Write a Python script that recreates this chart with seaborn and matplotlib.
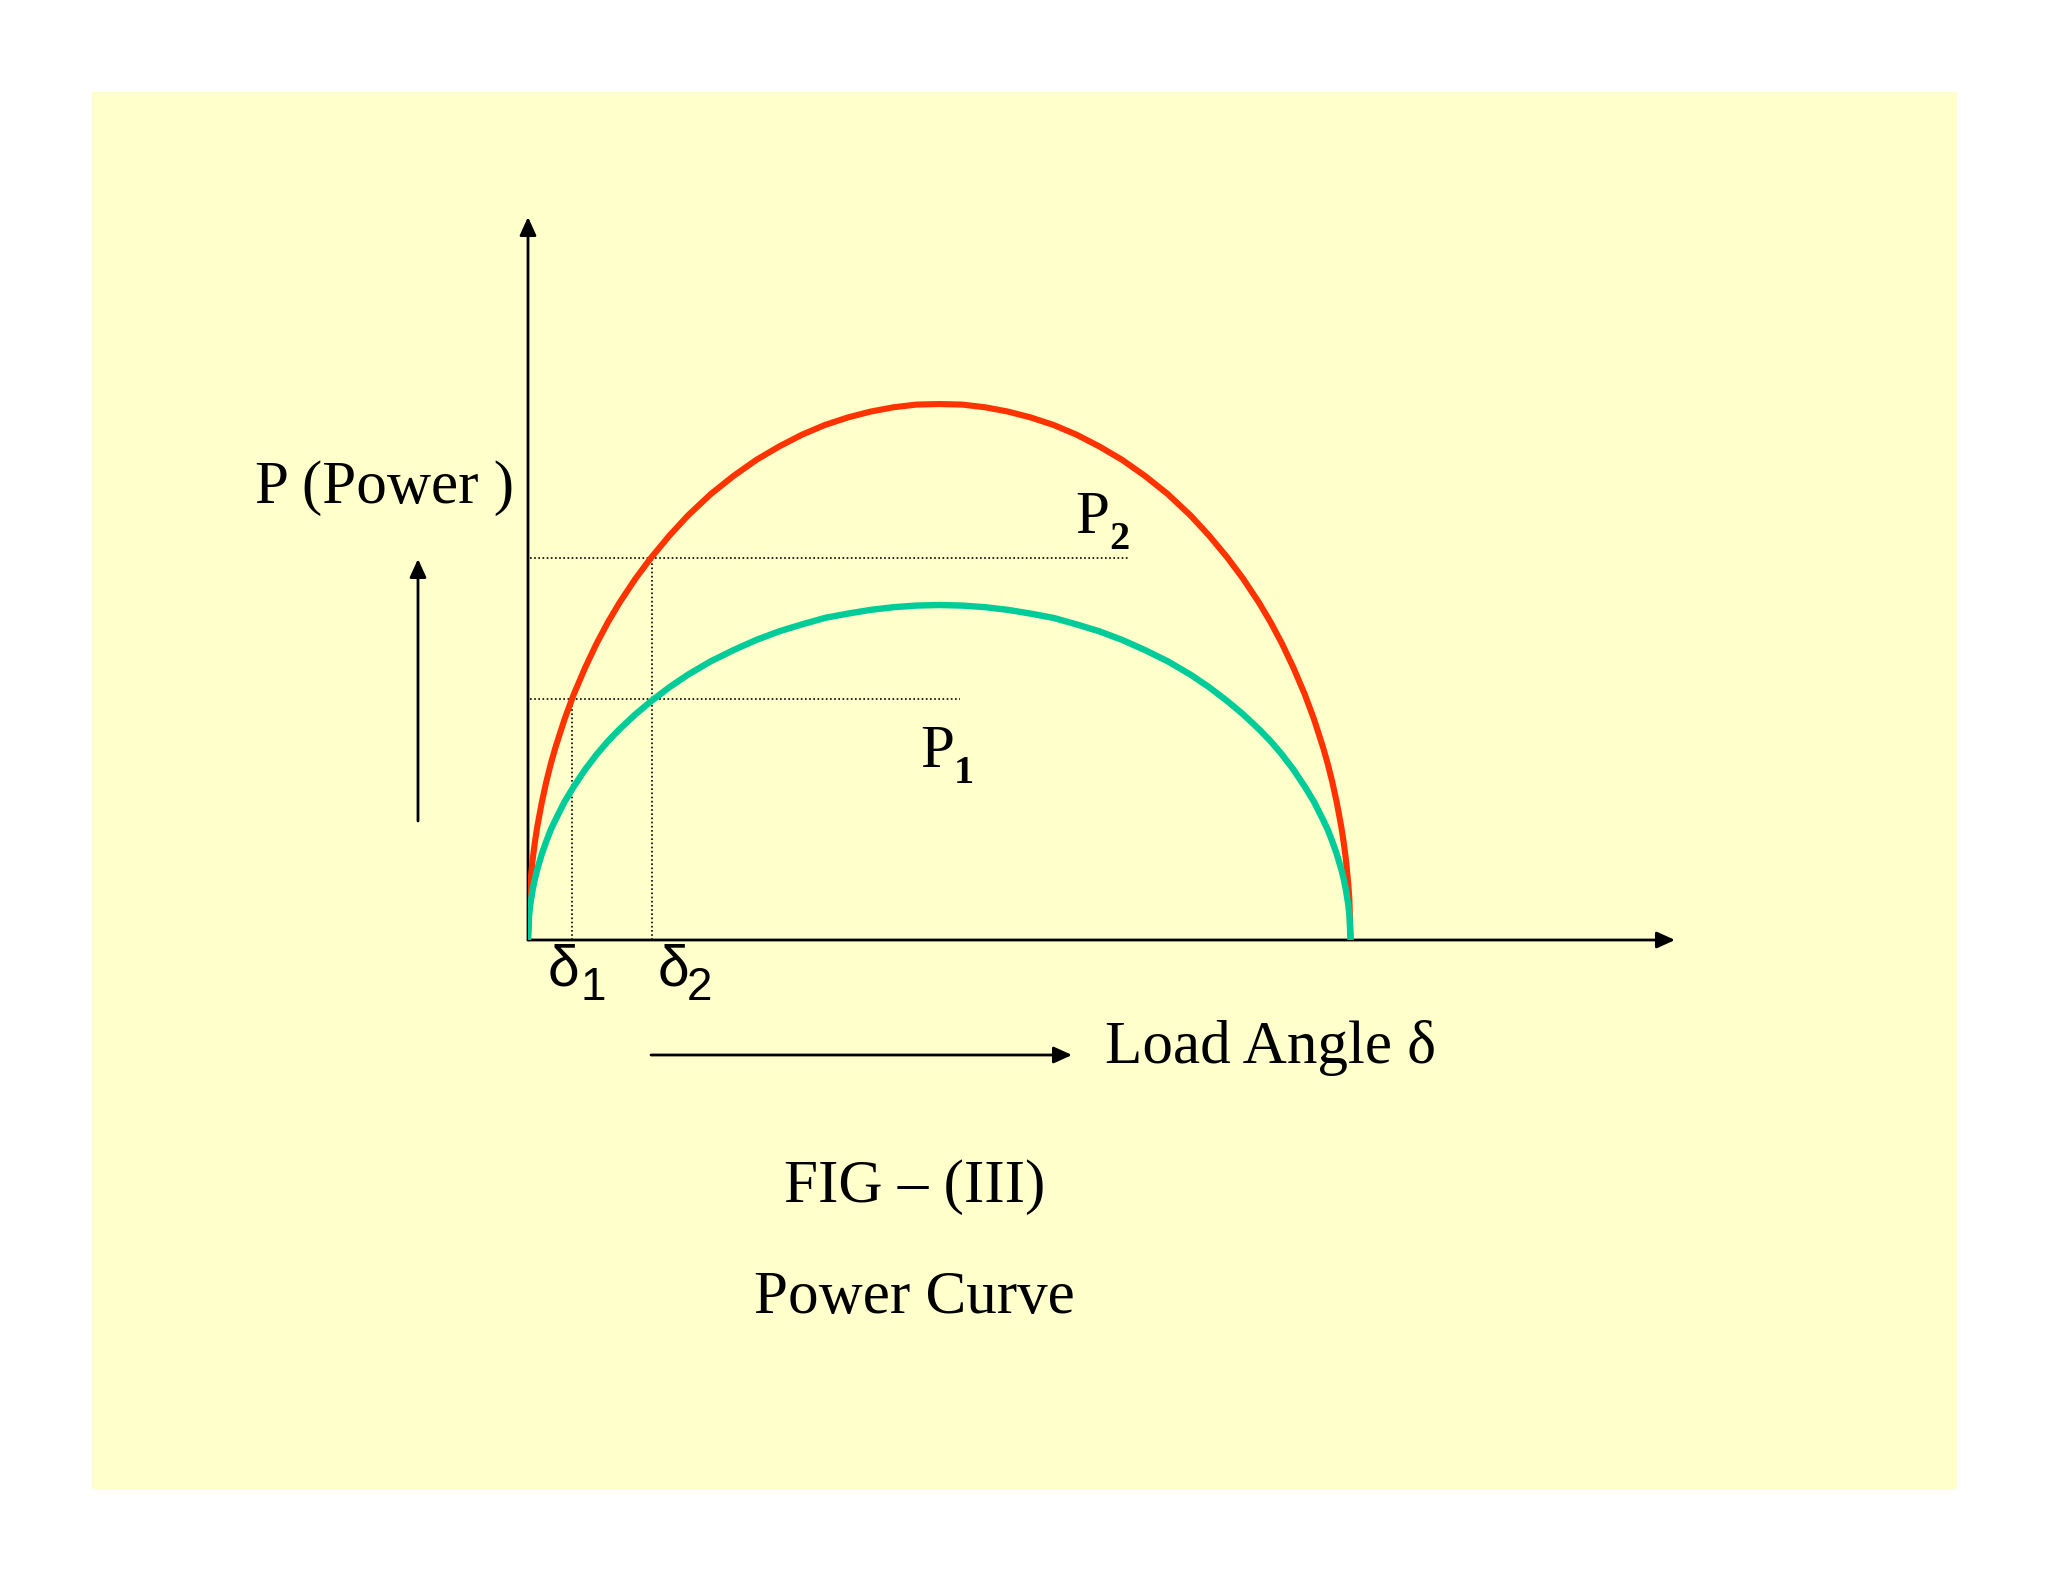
import numpy as np
import pandas as pd
import matplotlib
matplotlib.use("Agg")
import matplotlib.pyplot as plt
from matplotlib.patches import Rectangle
import seaborn as sns

# values (load angle in degrees, power relative to P2 peak)
load_angle = [0, 0.25, 0.5, 1, 1.5, 2, 3, 4, 5, 6, 8, 10, 12.5, 15, 17.5, 20, 23.5, 27, 31, 35,
              40, 45, 50, 55, 60, 65, 70, 75, 80, 85, 90,
              95, 100, 105, 110, 115, 120, 125, 130, 135, 140, 145, 149, 153, 156.5, 160,
              162.5, 165, 167.5, 170, 172, 174, 175, 176, 177, 178, 178.5, 179, 179.5, 179.75, 180]
power_p2 = [0, 0.075, 0.105, 0.149, 0.182, 0.210, 0.256, 0.295, 0.329, 0.359, 0.412, 0.458,
            0.508, 0.553, 0.593, 0.629, 0.674, 0.714, 0.755, 0.792, 0.832, 0.866, 0.896, 0.921,
            0.943, 0.961, 0.975, 0.986, 0.994, 0.999, 1.0,
            0.999, 0.994, 0.986, 0.975, 0.961, 0.943, 0.921, 0.896, 0.866, 0.832, 0.792, 0.755,
            0.714, 0.674, 0.629, 0.593, 0.553, 0.508, 0.458, 0.412, 0.359, 0.329, 0.295, 0.256,
            0.210, 0.182, 0.149, 0.105, 0.075, 0]
power_p1 = [0, 0.047, 0.066, 0.093, 0.114, 0.131, 0.160, 0.184, 0.206, 0.224, 0.258, 0.286,
            0.318, 0.346, 0.371, 0.393, 0.421, 0.446, 0.472, 0.495, 0.520, 0.541, 0.560, 0.576,
            0.589, 0.601, 0.609, 0.616, 0.621, 0.624, 0.625,
            0.624, 0.621, 0.616, 0.609, 0.601, 0.589, 0.576, 0.560, 0.541, 0.520, 0.495, 0.472,
            0.446, 0.421, 0.393, 0.371, 0.346, 0.318, 0.286, 0.258, 0.224, 0.206, 0.184, 0.160,
            0.131, 0.114, 0.093, 0.066, 0.047, 0]

delta_1 = 9.6
delta_2 = 27.2
p_low = 0.45
p_high = 0.713
guide_low_end = 94.6
guide_high_end = 131.8

W, H = 2048, 1582

sns.set_theme(style="white")
plt.rcParams['font.family'] = ['Liberation Serif', 'DejaVu Serif']
plt.rcParams['text.color'] = 'black'

df = pd.DataFrame({'angle': load_angle * 2,
                   'power': power_p2 + power_p1,
                   'curve': ['P2'] * len(load_angle) + ['P1'] * len(load_angle)})

fig = plt.figure(figsize=(W / 100, H / 100), dpi=100)
fig.patch.set_facecolor('white')
fig.add_artist(Rectangle((92 / W, 1 - 1489 / H), (1957 - 92) / W, (1489 - 92) / H,
                         transform=fig.transFigure, facecolor='#FFFFCC',
                         edgecolor='none', zorder=0))

# axes origin at pixel (528, 940), arrow tips at x=1675 / y=217
ax = fig.add_axes([528 / W, 1 - 940 / H, (1675 - 528) / W, (940 - 217) / H])
ax.set_facecolor('none')

dots = (0, (1, 1.5))
ax.hlines([p_high], 0.4, guide_high_end, colors='black', linewidth=1.2, linestyles=dots, zorder=1)
ax.hlines([p_low], 0.4, guide_low_end, colors='black', linewidth=1.2, linestyles=dots, zorder=1)
ax.vlines([delta_1], 0, p_low, colors='black', linewidth=1.2, linestyles=dots, zorder=1)
ax.vlines([delta_2], 0, p_high, colors='black', linewidth=1.2, linestyles=dots, zorder=1)

sns.lineplot(data=df, x='angle', y='power', hue='curve', palette={'P2': '#FF3300', 'P1': '#00CC99'},
             hue_order=['P2', 'P1'], estimator=None, sort=False, legend=False, ax=ax, zorder=3)
for line, lw in zip(ax.get_lines(), [4.4, 4.6]):
    line.set_linewidth(lw)
    line.set_solid_capstyle('butt')
    line.set_solid_joinstyle('round')

ax.set_xlim(0, 251)
ax.set_ylim(0, 1.349)
ax.set_xticks([])
ax.set_yticks([])
ax.set_xlabel('')
ax.set_ylabel('')
for s in ax.spines.values():
    s.set_visible(False)

arrow = dict(arrowstyle='-|>,head_length=0.55,head_width=0.25', color='black', lw=2,
             shrinkA=0, shrinkB=0, mutation_scale=20)
ax.annotate('', xy=(1, 0), xytext=(0, 0), xycoords='axes fraction', arrowprops=arrow, zorder=2)
ax.annotate('', xy=(0, 1), xytext=(0, 0), xycoords='axes fraction', arrowprops=arrow, zorder=2)
# side arrows
ax.annotate('', xy=(418, H - 559), xytext=(418, H - 821), xycoords='figure pixels', arrowprops=arrow)
ax.annotate('', xy=(1072, H - 1055), xytext=(651, H - 1055), xycoords='figure pixels', arrowprops=arrow)


def put(x, y, s, size, **kw):
    fig.text(x / W, 1 - y / H, s, fontsize=size, ha='left', va='baseline', color='black', **kw)


put(255, 503, 'P (Power )', 44)
put(1105, 1063, 'Load Angle δ', 44)
put(784, 1202, 'FIG – (III)', 44)
put(754, 1313, 'Power Curve', 44)
put(1075, 533, 'P', 44)
put(1109, 549, '2', 29, fontweight='bold')
put(920, 767, 'P', 44)
put(954, 783, '1', 29, fontweight='bold')
put(548, 985, 'δ', 41, family=['Liberation Sans', 'DejaVu Sans'])
put(580, 1000, '1', 33, family=['Liberation Sans', 'DejaVu Sans'])
put(658, 985, 'δ', 41, family=['Liberation Sans', 'DejaVu Sans'])
put(687, 1000, '2', 33, family=['Liberation Sans', 'DejaVu Sans'])

fig.savefig('out.png', dpi=100)
